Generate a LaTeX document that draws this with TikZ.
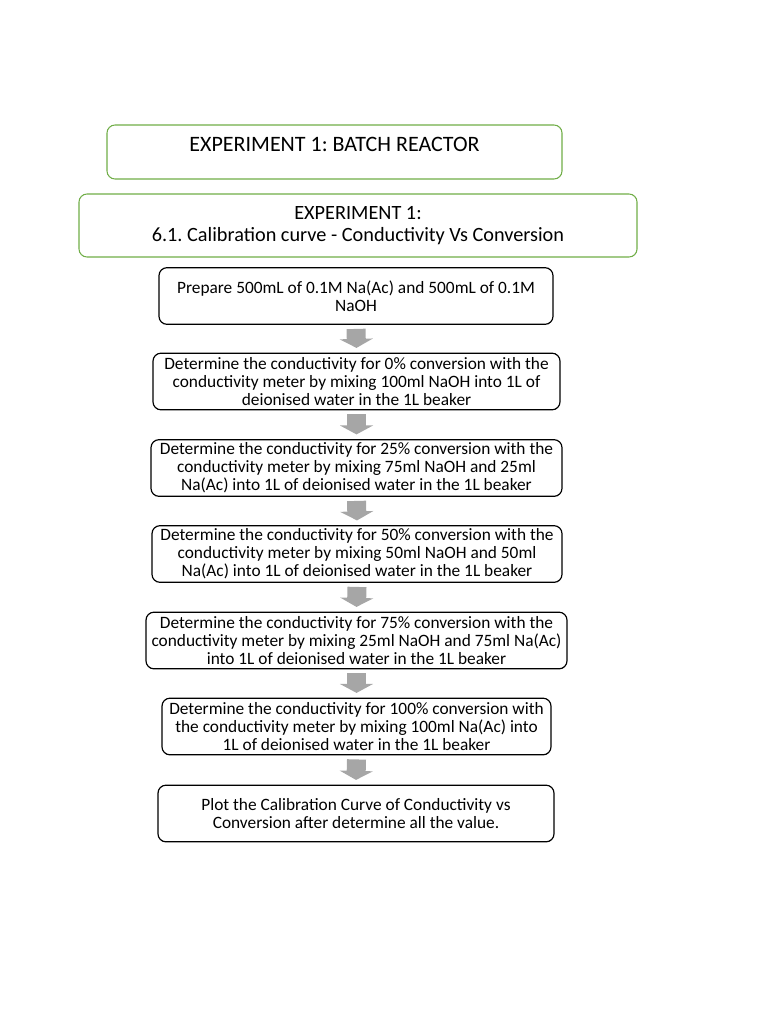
\documentclass[tikz,border=0pt]{standalone}
\usepackage{fontspec}
\setmainfont{Carlito}
\usetikzlibrary{arrows.meta}
\definecolor{boxgreen}{RGB}{112,173,71}
\frenchspacing

\begin{document}
\begin{tikzpicture}[
    x=0.75pt, y=-0.75pt,
    box/.style={draw=#1, rounded corners=6pt, align=center, inner xsep=2pt, inner ysep=0pt, font=\fontsize{13}{13.5}\selectfont},
    green box/.style={box=boxgreen, line width=0.8pt},
    step box/.style={box=black, line width=0.9pt, minimum height=42.5pt},
    flow/.style={line width=14.25pt, color=gray!70, -{Triangle[width=24.75pt,length=6.75pt]}}
]

% Page
\useasboundingbox (0,0) rectangle (768,1024);

% Headers
\node[green box, minimum width=341.25pt, text height=19.5pt, text depth=21pt, anchor=base, font=\fontsize{16.5}{16.5}\selectfont] (title) at (334.5,151) {EXPERIMENT 1: BATCH REACTOR};
\node[green box, minimum width=418.5pt, minimum height=47.25pt, font=\fontsize{15.2}{16.5}\selectfont] (sub) at (358,225.5) {EXPERIMENT 1:\\6.1. Calibration curve - Conductivity Vs Conversion};

% Steps
\node[step box, minimum width=295.5pt] (S1) at (356,296) {Prepare 500mL of 0.1M Na(Ac) and 500mL of 0.1M\\NaOH};
\node[step box, minimum width=305.25pt] (S2) at (356.5,381.5) {Determine the conductivity for 0\% conversion with the\\conductivity meter by mixing 100ml NaOH into 1L of\\deionised water in the 1L beaker};
\node[step box, minimum width=308.25pt] (S3) at (356.5,468) {Determine the conductivity for 25\% conversion with the\\conductivity meter by mixing 75ml NaOH and 25ml\\Na(Ac) into 1L of deionised water in the 1L beaker};
\node[step box, minimum width=307.5pt] (S4) at (357,554) {Determine the conductivity for 50\% conversion with the\\conductivity meter by mixing 50ml NaOH and 50ml\\Na(Ac) into 1L of deionised water in the 1L beaker};
\node[step box, minimum width=315.75pt] (S5) at (356.5,640.5) {Determine the conductivity for 75\% conversion with the\\conductivity meter by mixing 25ml NaOH and 75ml Na(Ac)\\into 1L of deionised water in the 1L beaker};
\node[step box, minimum width=291.75pt] (S6) at (356.5,726.5) {Determine the conductivity for 100\% conversion with\\the conductivity meter by mixing 100ml Na(Ac) into\\1L of deionised water in the 1L beaker};
\node[step box, minimum width=297pt] (S7) at (356,813.5) {Plot the Calibration Curve of Conductivity vs\\Conversion after determine all the value.};

% Arrows
\foreach \a/\b in {S1/S2, S2/S3, S3/S4, S4/S5, S5/S6, S6/S7}
    \draw[flow] ([yshift=-3pt]\a.south) -- ([yshift=3.5pt]\b.north);

\end{tikzpicture}
\end{document}
